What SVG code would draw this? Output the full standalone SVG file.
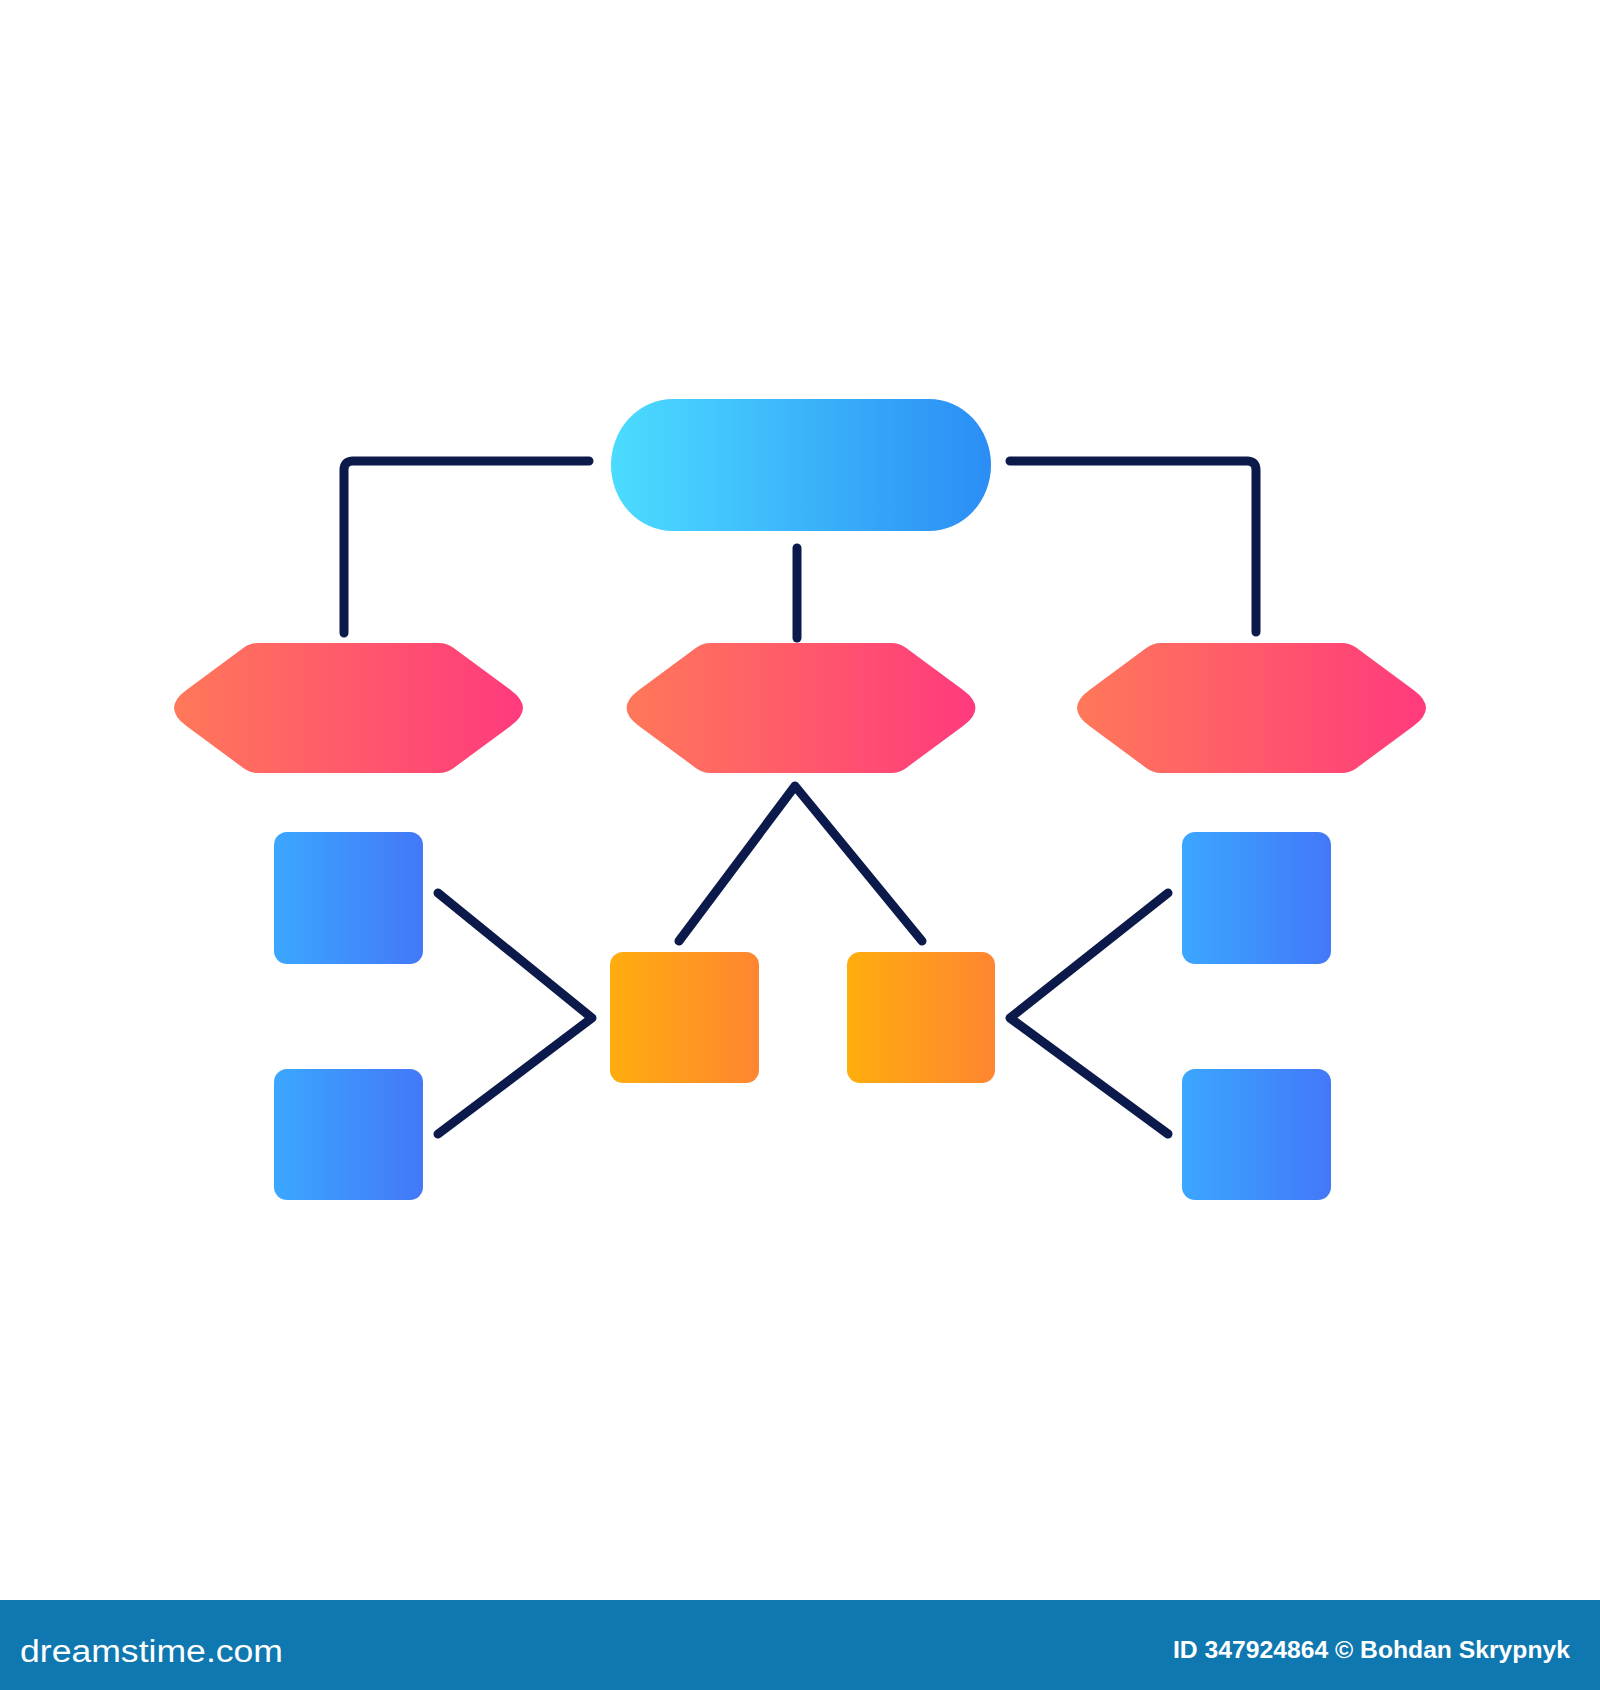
<svg xmlns="http://www.w3.org/2000/svg" width="1600" height="1690" viewBox="0 0 1600 1690">
<style>
.line{fill:none;stroke:#0c1a4b;stroke-width:9;stroke-linecap:round;stroke-linejoin:round}
.hex{fill:url(#gHex)}
.sqB{fill:url(#gBlue)}
.sqO{fill:url(#gOrange)}
.foot{fill:#ffffff;font-family:"Liberation Sans",Arial,sans-serif}
</style>
<defs>
<linearGradient id="gPill" x1="0" y1="0" x2="1" y2="0"><stop offset="0" stop-color="#4cdcff"/><stop offset="1" stop-color="#2b8df5"/></linearGradient>
<linearGradient id="gHex" x1="0" y1="0" x2="1" y2="0"><stop offset="0" stop-color="#ff7859"/><stop offset="1" stop-color="#ff3a7d"/></linearGradient>
<linearGradient id="gBlue" x1="0" y1="0" x2="1" y2="0"><stop offset="0" stop-color="#3ba7ff"/><stop offset="1" stop-color="#4378f8"/></linearGradient>
<linearGradient id="gOrange" x1="0" y1="0" x2="1" y2="0"><stop offset="0" stop-color="#ffad0e"/><stop offset="1" stop-color="#ff8531"/></linearGradient>
<path id="hexShape" d="M-162.4,-17.8 L-104.9,-60.2 Q-98.5,-65 -90.5,-65 L90.5,-65 Q98.5,-65 104.9,-60.2 L162.4,-17.8 Q186.5,0 162.4,17.8 L104.9,60.2 Q98.5,65 90.5,65 L-90.5,65 Q-98.5,65 -104.9,60.2 L-162.4,17.8 Q-186.5,0 -162.4,-17.8 Z"/>
</defs>
<rect width="1600" height="1690" fill="#ffffff"/>
<g id="connectors">
<path class="line" d="M589,461 H353 Q344,461 344,470 V633"/>
<path class="line" d="M1010,461 H1247 Q1256,461 1256,470 V632"/>
<path class="line" d="M797,548 V638"/>
<path class="line" d="M679,941 L795,786 L922,941"/>
<path class="line" d="M438,893 L592,1018 L438,1134"/>
<path class="line" d="M1168,893 L1010,1018 L1168,1134"/>
</g>
<g id="top"><rect x="611" y="399" width="380" height="132" rx="62" ry="66" fill="url(#gPill)"/></g>
<g id="hexLeft"><use href="#hexShape" class="hex" transform="translate(348.5,708)"/></g>
<g id="hexMid"><use href="#hexShape" class="hex" transform="translate(801,708)"/></g>
<g id="hexRight"><use href="#hexShape" class="hex" transform="translate(1251.5,708)"/></g>
<g id="blueLT"><rect class="sqB" x="274" y="832" width="149" height="132" rx="13"/></g>
<g id="blueLB"><rect class="sqB" x="274" y="1069" width="149" height="131" rx="13"/></g>
<g id="blueRT"><rect class="sqB" x="1182" y="832" width="149" height="132" rx="13"/></g>
<g id="blueRB"><rect class="sqB" x="1182" y="1069" width="149" height="131" rx="13"/></g>
<g id="orangeL"><rect class="sqO" x="610" y="952" width="149" height="131" rx="13"/></g>
<g id="orangeR"><rect class="sqO" x="847" y="952" width="148" height="131" rx="13"/></g>
<g id="footer">
<rect x="0" y="1600" width="1600" height="90" fill="#0f78b0"/>
<text class="foot" x="20" y="1662" font-size="31" textLength="263" lengthAdjust="spacingAndGlyphs">dreamstime.com</text>
<text class="foot" x="1173" y="1658" font-size="23" font-weight="bold" textLength="397" lengthAdjust="spacingAndGlyphs">ID 347924864 © Bohdan Skrypnyk</text>
</g>
</svg>
